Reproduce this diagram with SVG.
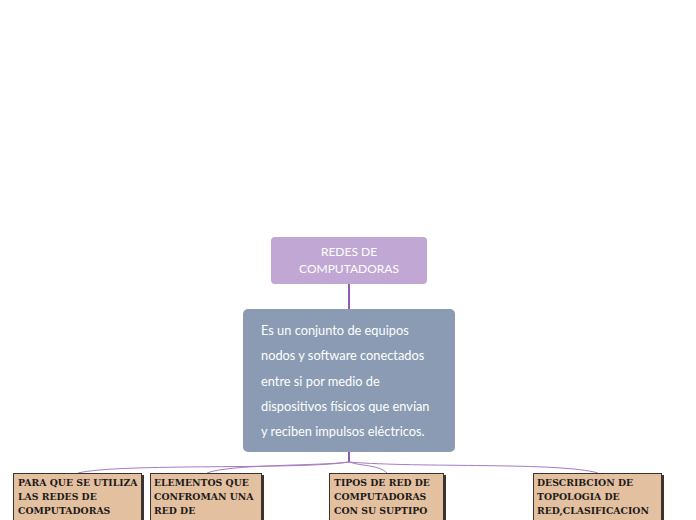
<svg xmlns="http://www.w3.org/2000/svg" width="696" height="520" viewBox="0 0 696 520">
<style>
.title{font-family:Lato,"Open Sans",sans-serif;font-size:12px;fill:#fff;text-anchor:middle}
.main{font-family:Lato,"Open Sans",sans-serif;font-size:12.8px;fill:#fff}
.leaf rect.b{fill:#e2c0a0;stroke:#3a3330;stroke-width:1}
.leaf rect.s{fill:#3a3330}
.leaf text{font-family:"DejaVu Serif","Liberation Serif",serif;font-weight:bold;font-size:9.3px;fill:#1e1a18}
.conn{fill:none;stroke:#a47cc4;stroke-width:1}
</style>
<rect width="696" height="520" fill="#fff"/>
<g id="connectors">
<line x1="349" y1="284" x2="349" y2="310" stroke="#8e5cb5" stroke-width="2"/>
<line x1="349" y1="452" x2="349" y2="462" stroke="#8e5cb5" stroke-width="2"/>
<path class="conn" d="M349,462 C300,470 120,463 78,473"/>
<path class="conn" d="M349,462 C320,466 230,464 207,473"/>
<path class="conn" d="M349,462 C360,466 380,465 387,473"/>
<path class="conn" d="M349,462 C420,468 560,462 598,473"/>
</g>
<g id="title">
<rect x="271" y="237" width="156" height="47" rx="4" fill="#c1a7d3"/>
<text class="title" x="349" y="256">REDES DE</text>
<text class="title" x="349" y="273">COMPUTADORAS</text>
</g>
<g id="definition">
<rect x="243" y="309" width="212" height="143" rx="5" fill="#8a9bb3"/>
<text class="main" x="261" y="335">Es un conjunto de equipos</text>
<text class="main" x="261" y="360">nodos y software conectados</text>
<text class="main" x="261" y="386">entre si por medio de</text>
<text class="main" x="261" y="411">dispositivos físicos que envían</text>
<text class="main" x="261" y="436">y reciben impulsos eléctricos.</text>
</g>
<g id="leaf1" class="leaf">
<rect class="s" x="15" y="475" width="129" height="50"/>
<rect class="b" x="13.5" y="473.5" width="128" height="50"/>
<text x="18" y="486">PARA QUE SE UTILIZA</text>
<text x="18" y="500">LAS REDES DE</text>
<text x="18" y="514">COMPUTADORAS</text>
</g>
<g id="leaf2" class="leaf">
<rect class="s" x="152" y="475" width="112" height="50"/>
<rect class="b" x="150.5" y="473.5" width="111" height="50"/>
<text x="154" y="486">ELEMENTOS QUE</text>
<text x="154" y="500">CONFROMAN UNA</text>
<text x="154" y="514">RED DE</text>
</g>
<g id="leaf3" class="leaf">
<rect class="s" x="331" y="475" width="115" height="50"/>
<rect class="b" x="329.5" y="473.5" width="114" height="50"/>
<text x="334" y="486">TIPOS DE RED DE</text>
<text x="334" y="500">COMPUTADORAS</text>
<text x="334" y="514">CON SU SUPTIPO</text>
</g>
<g id="leaf4" class="leaf">
<rect class="s" x="535" y="475" width="129" height="50"/>
<rect class="b" x="533.5" y="473.5" width="128" height="50"/>
<text x="537" y="486">DESCRIBCION DE</text>
<text x="537" y="500">TOPOLOGIA DE</text>
<text x="537" y="514">RED,CLASIFICACION</text>
</g>
</svg>
